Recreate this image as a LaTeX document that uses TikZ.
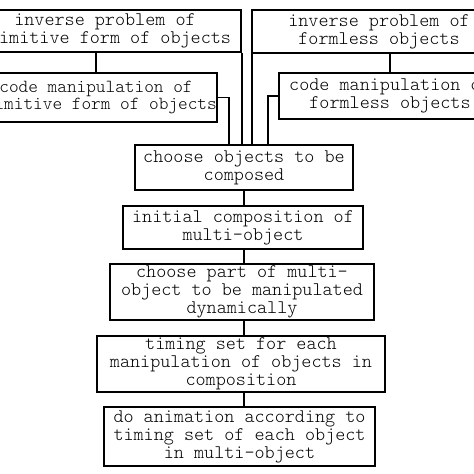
\documentclass[tikz,border=0pt]{standalone}
\usepackage{fontspec}
\newfontfamily\monofnt{Latin Modern Mono Light}
\tikzset{
  box/.style={draw, line width=1.8pt, align=center, inner sep=0pt, fill=white,
    font=\monofnt\fontsize{19.2}{18}\selectfont},
  link/.style={line width=1.8pt}
}
\begin{document}
\begin{tikzpicture}[x=1pt,y=-1pt]
\useasboundingbox (0,0) rectangle (474,474);
\clip (0,0) rectangle (474,474);
\fill[white] (0,0) rectangle (474,474);
\node[box, minimum width=272pt, minimum height=42pt] (A) at (105,31) {inverse problem of\\primitive form of objects};
\node[box, minimum width=242pt, minimum height=49pt, font=\monofnt\fontsize{18.4}{17.5}\selectfont] (B) at (96,97.5) {code manipulation of\\primitive form of objects};
\node[box, minimum width=254pt, minimum height=43pt] (D) at (379,31.5) {inverse problem of\\formless objects};
\node[box, minimum width=222pt, minimum height=46pt] (E) at (390,96) {code manipulation of\\formless objects};
\node[box, minimum width=218pt, minimum height=45pt] (C) at (244,167.5) {choose objects to be\\composed};
\node[box, minimum width=240pt, minimum height=43pt] (F) at (243,227.5) {initial composition of\\multi-object};
\node[box, minimum width=264pt, minimum height=56pt] (G) at (242,292) {choose part of multi-\\object to be manipulated\\dynamically};
\node[box, minimum width=288pt, minimum height=56pt] (H) at (241,364) {timing set for each\\manipulation of objects in\\composition};
\node[box, minimum width=271pt, minimum height=59pt] (I) at (239.5,436.5) {do animation according to\\timing set of each object\\in multi-object};
\draw[link] (B.north) -- (B.north |- A.south);
\draw[link] (E.north) -- (E.north |- D.south);
\draw[link] (B.east) -| ([xshift=-15pt]C.north);
\draw[link] (A.south east) -- (A.south east |- C.north);
\draw[link] ([xshift=1pt]D.south west) -- ([xshift=1pt]D.south west |- C.north);
\draw[link] (E.west) -| ([xshift=24pt]C.north);
\draw[link] (C.south) -- (C.south |- F.north);
\draw[link] (C.south |- F.south) -- (C.south |- G.north);
\draw[link] (C.south |- G.south) -- (C.south |- H.north);
\draw[link] (C.south |- H.south) -- (C.south |- I.north);
\end{tikzpicture}
\end{document}
